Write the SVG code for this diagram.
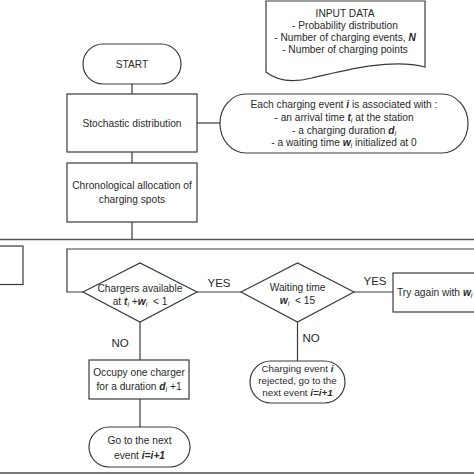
<svg xmlns="http://www.w3.org/2000/svg" width="474" height="474" viewBox="0 0 474 474">
<style>
.s{fill:#fff;stroke:#3a3a3a;stroke-width:1.2}
.c{fill:none;stroke:#3a3a3a;stroke-width:1.2}
text{font-family:"Liberation Sans",Arial,sans-serif;font-size:10.2px;fill:#2a2a2a;text-anchor:middle}
.l{font-size:11.5px}
.sm{font-size:9.8px}
.bi{font-weight:bold;font-style:italic}
.sb{font-size:7px;font-style:italic}
</style>
<rect width="474" height="474" fill="#fff"/>
<g id="connectors">
<line class="c" x1="132" y1="84" x2="132" y2="94"/>
<line class="c" x1="197" y1="123" x2="220" y2="123"/>
<line class="c" x1="132" y1="152" x2="132" y2="163"/>
<line class="c" x1="132" y1="222" x2="132" y2="239.5"/>
<line x1="0" y1="239.5" x2="474" y2="239.5" stroke="#555" stroke-width="1.6"/>
<polyline class="c" points="474,249 67,249 67,292 83,292"/>
<line class="c" x1="197" y1="292" x2="241" y2="292"/>
<line class="c" x1="354" y1="292" x2="393" y2="292"/>
<line class="c" x1="140" y1="322" x2="140" y2="360"/>
<line class="c" x1="140" y1="399" x2="140" y2="427"/>
<line class="c" x1="297.5" y1="322" x2="297.5" y2="361"/>
<text class="l" x="219" y="287">YES</text>
<text class="l" x="375" y="285">YES</text>
<text class="l" x="120" y="347">NO</text>
<text class="l" x="311" y="342">NO</text>
</g>
<g id="input">
<path class="s" d="M266,1 H425 V67 C392,58 345,70 312,78 C292,83 276,80 266,72 Z"/>
<text x="345" y="17">INPUT DATA</text>
<text x="345" y="29">- Probability distribution</text>
<text x="345" y="41">- Number of charging events, <tspan class="bi">N</tspan></text>
<text x="345" y="53">- Number of charging points</text>
</g>
<g id="start">
<rect class="s" x="83" y="44" width="98" height="40" rx="20"/>
<text x="132" y="67.5">START</text>
</g>
<g id="stochastic">
<rect class="s" x="67" y="94" width="130" height="58"/>
<text x="132" y="127">Stochastic distribution</text>
</g>
<g id="event-info">
<rect class="s" x="220" y="94" width="248" height="59" rx="26" ry="29.5"/>
<text x="344" y="107.5">Each charging event <tspan class="bi">i</tspan> is associated with :</text>
<text x="344" y="120.5">- an arrival time <tspan class="bi">t</tspan><tspan class="sb" dy="2">i</tspan><tspan dy="-2"> at the station</tspan></text>
<text x="344" y="133.5">- a charging duration <tspan class="bi">d</tspan><tspan class="sb" dy="2">i</tspan></text>
<text x="344" y="146">- a waiting time <tspan class="bi">w</tspan><tspan class="sb" dy="2">i</tspan><tspan dy="-2"> initialized at 0</tspan></text>
</g>
<g id="chrono">
<rect class="s" x="67" y="163" width="130" height="59"/>
<text x="132" y="189">Chronological allocation of</text>
<text x="132" y="202.5">charging spots</text>
</g>
<g id="left-box">
<rect class="s" x="-5" y="246" width="28" height="38.5"/>
</g>
<g id="chargers-available">
<polygon class="s" points="83,292 140,263 197,292 140,322"/>
<text x="140" y="291.5">Chargers available</text>
<text x="140" y="304.5">at <tspan class="bi">t</tspan><tspan class="sb" dy="2">i</tspan><tspan dy="-2"> +</tspan><tspan class="bi">w</tspan><tspan class="sb" dy="2">i</tspan><tspan dy="-2" xml:space="preserve">  &lt; 1</tspan></text>
</g>
<g id="waiting-time">
<polygon class="s" points="241,292 297.5,263 354,292 297.5,322"/>
<text x="297.5" y="290.5">Waiting time</text>
<text x="297.5" y="303.5"><tspan class="bi">w</tspan><tspan class="sb" dy="2">i</tspan><tspan dy="-2" xml:space="preserve">  &lt; 15</tspan></text>
</g>
<g id="try-again">
<rect class="s" x="393" y="273" width="100" height="39"/>
<text x="397" y="296" style="text-anchor:start">Try again with <tspan class="bi">w</tspan><tspan class="sb" dy="2">i</tspan></text>
</g>
<g id="occupy">
<rect class="s" x="89" y="360" width="100" height="39"/>
<text x="139" y="376">Occupy one charger</text>
<text x="139" y="390">for a duration <tspan class="bi">d</tspan><tspan class="sb" dy="2">i</tspan><tspan dy="-2"> +1</tspan></text>
</g>
<g id="next-event">
<rect class="s" x="89" y="427" width="101" height="40" rx="20"/>
<text x="139.5" y="444">Go to the next</text>
<text x="139.5" y="458.5">event <tspan class="bi">i=i+1</tspan></text>
</g>
<g id="rejected">
<rect class="s" x="250" y="361" width="95" height="42" rx="21"/>
<text class="sm" x="297.5" y="372">Charging event <tspan class="bi">i</tspan></text>
<text class="sm" x="297.5" y="384">rejected, go to the</text>
<text class="sm" x="297.5" y="396">next event <tspan class="bi">i=i+1</tspan></text>
</g>
<rect x="0" y="472" width="474" height="2" fill="#777"/>
</svg>
